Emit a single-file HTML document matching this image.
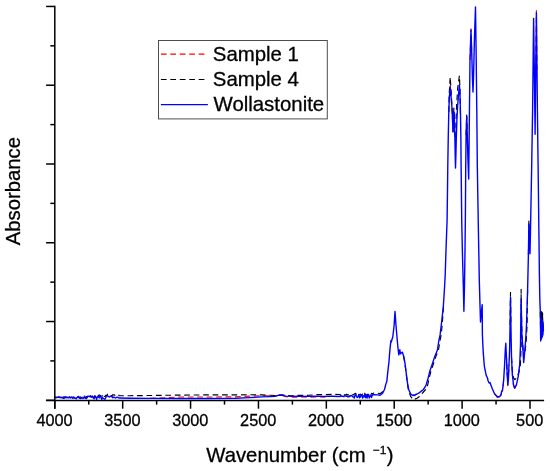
<!DOCTYPE html>
<html lang="en"><head><meta charset="utf-8"><title>FTIR Absorbance</title>
<style>
html,body{margin:0;padding:0;background:#fff;}
body{width:550px;height:471px;overflow:hidden;font-family:"Liberation Sans",sans-serif;}
svg{display:block;}
svg text{font-family:"Liberation Sans",sans-serif;fill:#000;stroke:#000;stroke-width:0.3px;}
</style></head><body>
<svg width="550" height="471" viewBox="0 0 550 471">
<rect width="550" height="471" fill="#fff"/>
<g fill="none" stroke-linejoin="round" stroke-linecap="butt">
<path d="M150.0,398.4 L180.0,397.0 L210.0,397.0 L235.0,396.8 L250.0,396.1 L262.0,395.8 L270.0,395.8 L275.0,395.9 L278.5,395.2 M282.4,395.5 L286.0,396.7 L292.0,397.3 L300.0,397.0 L308.0,397.3 L316.0,397.0 L324.0,397.1 L332.0,396.3 M449.3,98.0 L450.2,85.5 L451.0,96.0 M470.0,60.0 L471.0,28.7 L471.8,55.0 M494.5,393.7 L497.4,397.5 L499.7,397.5 L501.1,395.2 L501.5,392.8 L501.9,391.5 L502.6,390.8 L503.7,379.6 M507.1,372.1 L507.8,385.6 L508.4,379.6 M512.3,373.6 L513.5,385.6 L514.8,389.0 L516.4,384.8 M535.7,70.0 L536.4,10.5 L537.0,70.0" stroke="#ff0000" stroke-width="1.1" stroke-dasharray="5.7 3.75"/>
<path d="M55.0,397.2 L55.9,397.1 L56.7,397.4 L57.6,397.5 L58.4,397.4 L59.3,397.0 L60.1,397.8 L61.0,397.1 M61.8,398.0 L62.7,397.3 L63.5,396.9 L64.4,397.2 L65.2,396.9 L66.0,397.9 L66.9,397.5 L67.7,397.2 L68.6,396.7 L69.4,396.9 L70.3,397.3 L71.1,397.5 L72.0,397.0 L72.8,397.7 L73.7,397.5 L74.5,398.1 L75.4,396.9 L76.2,396.6 L77.1,397.9 L77.9,397.3 L78.8,397.7 L79.6,397.5 L80.5,396.9 L81.3,397.5 L82.2,397.2 L83.0,398.4 M83.9,397.7 L84.7,397.8 L85.6,398.4 L86.4,396.5 L87.3,397.4 L88.1,396.7 L89.0,395.7 L89.8,397.3 L90.7,395.7 L91.5,397.4 M92.4,396.1 L93.2,397.2 L94.1,397.0 L94.9,395.6 L95.8,397.0 L96.6,394.7 L97.5,394.9 L98.3,395.6 L99.2,394.9 L100.0,395.4 L100.9,395.8 L101.7,396.1 L102.6,395.9 L103.4,394.1 L104.3,396.3 L105.1,396.3 L106.0,395.1 L106.8,395.8 L107.7,394.0 L108.5,394.3 L109.4,394.1 L110.2,394.4 L111.1,395.0 L111.9,396.0 L112.8,394.7 L113.6,395.0 L114.5,394.8 L115.3,395.8 L116.2,395.2 L117.0,394.9 L117.9,395.0 L118.7,394.9 L119.0,395.7 L130.0,395.7 L150.0,395.5 L180.0,395.1 L210.0,394.9 L235.0,394.9 L250.0,394.7 L262.0,394.9 L270.0,395.3 L275.0,395.5 L278.5,394.8 L282.4,394.8 L286.0,395.4 L292.0,395.7 L300.0,395.3 L308.0,395.3 L316.0,394.7 L324.0,394.6 L332.0,394.4 L340.0,394.5 L340.8,394.7 L341.6,394.0 L342.3,394.0 L343.1,395.1 L343.8,394.9 L344.6,394.7 L345.3,394.8 L346.1,394.8 L346.8,394.2 L347.6,395.0 L348.3,394.9 L349.1,394.8 L349.8,394.5 L350.6,394.0 L351.3,394.3 L352.1,394.7 L352.8,394.5 L353.6,395.0 L354.3,393.9 L355.1,393.5 L355.8,393.4 L356.6,395.3 L357.3,394.2 L358.1,395.1 L358.8,394.7 L359.6,395.0 L360.3,394.2 L361.1,395.0 L361.8,395.1 L362.6,394.0 L363.3,395.5 L364.1,393.3 L364.8,393.3 L365.6,395.1 L366.3,395.1 L367.1,394.7 L367.8,394.4 L368.6,392.9 L369.3,394.7 L370.1,395.4 L370.8,395.3 L371.6,393.4 L372.3,393.7 L374.0,393.0 L378.0,393.3 L380.1,393.6 L382.6,391.7 L384.5,389.5 M403.6,356.0 L404.9,363.4 L406.2,373.9 L407.5,384.5 L408.7,391.3 L410.6,396.4 L412.0,398.1 L413.2,399.1 L414.0,398.5 L414.8,399.5 L415.7,398.6 L417.0,398.2 L419.5,396.5 L423.4,392.0 L427.0,387.9 L428.9,379.3 L430.8,371.6 L433.4,364.0 L435.9,356.4 L438.5,350.0 L439.9,341.0 L441.2,334.9 L442.3,323.0 L443.5,306.8 M448.8,112.0 L449.3,92.4 L450.2,77.0 L451.0,89.6 L452.0,106.4 L452.7,124.0 M453.0,132.0 L453.4,116.0 L453.9,108.0 L454.4,116.0 L454.9,138.0 M456.3,138.0 L456.0,120.0 L456.7,104.0 L457.7,88.0 L459.4,75.7 L460.0,89.3 L460.5,115.0 M466.1,135.0 L466.7,115.0 L467.3,135.0 M506.3,354.3 L507.1,371.3 L507.8,378.9 L508.4,375.8 L509.0,364.7 M510.1,325.0 L510.5,292.4 L510.9,325.0 M511.5,357.3 L512.3,370.4 L513.5,377.5 L514.8,379.6 L517.1,377.5 L518.9,372.3 L520.4,364.7 L521.2,345.0 L521.1,289.3 L521.9,335.0 L523.0,348.5 L523.7,357.4 L525.2,350.5 L526.3,339.5 L527.1,325.0 L527.6,290.0 M528.4,255.0 L528.9,221.0 L529.5,240.0 M540.3,312.0 L540.7,338.0 L541.1,310.0 L541.5,336.0 L541.9,312.0 L542.3,334.0 L542.6,313.0 L542.9,332.0 L543.2,322.0 L543.4,328.0" stroke="#000" stroke-width="1.15" stroke-dasharray="5.7 3.75"/>
<path d="M55.0,397.4 L55.9,397.8 L56.7,397.6 L57.6,397.1 L58.4,397.0 L59.3,397.0 L60.1,397.5 L61.0,397.1 L61.8,397.8 L62.7,397.7 L63.5,398.4 L64.4,398.2 L65.2,397.0 L66.0,397.3 L66.9,397.0 L67.7,397.9 L68.6,397.7 L69.4,396.7 L70.3,398.0 L71.1,397.2 L72.0,397.5 L72.8,398.3 L73.7,397.0 L74.5,397.7 L75.4,398.2 L76.2,398.8 L77.1,397.4 L77.9,396.7 L78.8,396.4 L79.6,398.3 L80.5,398.6 L81.3,398.2 L82.2,397.8 L83.0,398.6 L83.9,397.5 L84.7,396.2 L85.6,398.1 L86.4,398.6 L87.3,397.2 L88.1,396.0 L89.0,396.5 L89.8,396.1 L90.7,396.3 L91.5,397.2 L92.4,396.1 L93.2,397.8 L94.1,398.8 L94.9,396.8 L95.8,397.1 L96.6,399.3 L97.5,396.4 L98.3,396.6 L99.2,397.9 L100.0,395.7 L100.9,397.1 L101.7,399.3 L102.6,397.7 L103.4,398.3 L104.3,399.1 L105.1,399.0 L106.0,397.2 L106.8,396.1 L107.7,395.9 L108.5,396.5 L109.4,397.1 L110.2,396.1 L111.1,396.5 L111.9,396.4 L112.8,397.8 L113.6,397.1 L114.5,397.4 L115.3,398.0 L116.2,397.6 L117.0,397.1 L117.9,397.4 L118.7,398.0 L119.0,398.0 L130.0,398.2 L150.0,398.4 L180.0,398.5 L210.0,398.5 L235.0,398.3 L250.0,397.6 L262.0,396.9 L270.0,396.6 L275.0,396.4 L278.5,395.4 L282.4,395.4 L286.0,396.1 L292.0,396.4 L300.0,396.1 L308.0,396.4 L316.0,396.1 L324.0,396.4 L332.0,396.3 L340.0,396.5 L340.8,395.4 L341.6,396.3 L342.3,396.3 L343.1,396.3 L343.8,396.8 L344.6,395.8 L345.3,395.7 L346.1,396.3 L346.8,395.9 L347.6,396.7 L348.3,396.8 L349.1,396.7 L349.8,395.8 L350.6,396.0 L351.3,395.4 L352.1,395.8 L352.8,396.9 L353.6,396.9 L354.3,398.0 L355.1,394.9 L355.8,394.8 L356.6,396.6 L357.3,397.5 L358.1,396.7 L358.8,394.4 L359.6,397.8 L360.3,397.1 L361.1,394.7 L361.8,395.4 L362.6,398.0 L363.3,395.7 L364.1,397.0 L364.8,394.5 L365.6,397.7 L366.3,394.6 L367.1,398.1 L367.8,395.5 L368.6,394.5 L369.3,398.0 L370.1,396.2 L370.8,395.8 L371.6,397.4 L372.3,395.0 L374.0,394.6 L378.0,394.9 L380.1,395.2 L382.6,393.3 L384.5,389.5 L385.8,384.4 L386.4,382.6 L386.8,381.6 L387.7,372.9 L389.0,361.5 L389.6,353.5 L390.3,345.9 L390.9,340.8 L391.3,342.0 L391.8,340.0 L392.8,337.0 L394.1,325.5 L395.0,311.5 L396.0,325.5 L397.3,340.8 L398.3,351.0 L398.8,354.8 L399.8,349.7 L400.5,353.8 L401.1,353.0 L402.4,352.2 L403.6,356.0 L404.9,362.7 L406.2,372.9 L407.5,383.1 L408.7,389.5 L410.6,393.9 L412.0,395.0 L413.2,395.6 L414.0,394.7 L414.8,395.5 L415.7,394.5 L417.0,394.0 L419.5,392.6 L423.4,389.5 L425.9,385.6 L427.8,379.3 L429.7,371.6 L432.3,364.0 L434.8,356.4 L437.4,350.0 L438.8,341.0 L440.1,334.9 L441.5,323.0 L443.3,306.8 L444.4,290.0 L445.2,275.0 L446.0,250.0 L447.1,220.0 L447.5,190.0 L447.8,165.0 L448.3,135.0 L448.8,112.0 L449.3,98.0 L450.2,87.0 L451.0,96.0 L452.0,108.0 L452.7,124.0 L453.0,132.0 L453.4,120.0 L453.9,112.0 L454.4,120.0 L454.9,138.0 L455.2,155.0 L455.5,168.0 L455.9,155.0 L456.3,138.0 L456.9,120.0 L457.6,106.0 L458.6,94.0 L459.4,84.8 L460.0,95.0 L460.5,115.0 L460.9,140.0 L461.1,165.0 L461.8,225.0 L462.6,260.0 L463.3,285.0 L463.9,311.3 L464.5,285.0 L465.0,250.0 L465.4,215.0 L465.7,170.0 L466.1,135.0 L466.7,116.5 L467.3,135.0 L467.9,158.0 L468.7,179.0 L469.0,150.0 L469.4,115.0 L470.0,60.0 L471.0,29.9 L471.8,55.0 L472.5,80.0 L473.0,92.0 L473.6,75.0 L474.4,40.0 L475.5,6.9 L476.1,50.0 L476.8,110.0 L477.3,165.0 L478.3,225.0 L479.3,280.0 L480.0,305.0 L480.5,322.0 L481.4,312.0 L482.2,304.7 L482.4,335.0 L483.0,348.0 L483.4,354.4 L484.3,365.8 L486.2,375.4 L487.5,378.0 L488.0,380.5 L489.1,383.0 L490.0,382.5 L492.2,388.5 L494.5,393.7 L497.4,396.7 L499.7,396.7 L501.1,394.4 L501.5,392.0 L501.9,390.7 L502.6,390.0 L503.7,379.6 L504.6,364.7 L505.3,349.9 L505.8,343.2 L506.3,354.3 L507.1,372.1 L507.8,384.8 L508.4,379.6 L509.0,364.7 L509.6,349.9 L510.1,325.0 L510.5,297.4 L510.9,325.0 L511.5,357.3 L512.3,373.6 L513.5,384.8 L514.8,388.2 L516.4,384.8 L518.2,376.6 L519.7,364.7 L520.5,345.0 L521.1,299.3 L521.9,335.0 L523.0,349.9 L523.7,362.5 L524.6,352.8 L525.7,339.5 L526.5,325.0 L527.6,290.0 L528.4,255.0 L528.9,224.0 L529.5,240.0 L530.0,253.8 L530.6,225.0 L531.7,165.0 L532.6,110.0 L533.2,55.0 L533.6,18.5 L534.2,60.0 L535.1,134.2 L535.7,70.0 L536.4,12.8 L537.0,70.0 L537.4,110.0 L538.1,165.0 L539.0,240.0 L539.4,275.0 L539.8,298.0 L540.3,312.0 L540.7,341.0 L541.1,318.0 L541.5,339.0 L541.9,320.0 L542.3,337.0 L542.6,321.0 L542.9,335.0 L543.2,325.0 L543.4,331.0" stroke="#0000ff" stroke-width="1.4"/>
</g>
<g stroke="#000" stroke-width="1.5" fill="none">
<line x1="54.8" y1="5.7" x2="54.8" y2="408.7"/>
<line x1="46.1" y1="400.45" x2="544.1" y2="400.45"/>
<line x1="54.80" y1="400.45" x2="54.80" y2="408.7"/>
<line x1="122.69" y1="400.45" x2="122.69" y2="408.7"/>
<line x1="190.57" y1="400.45" x2="190.57" y2="408.7"/>
<line x1="258.45" y1="400.45" x2="258.45" y2="408.7"/>
<line x1="326.34" y1="400.45" x2="326.34" y2="408.7"/>
<line x1="394.23" y1="400.45" x2="394.23" y2="408.7"/>
<line x1="462.11" y1="400.45" x2="462.11" y2="408.7"/>
<line x1="530.00" y1="400.45" x2="530.00" y2="408.7"/>
<line x1="88.74" y1="400.45" x2="88.74" y2="404.6"/>
<line x1="156.63" y1="400.45" x2="156.63" y2="404.6"/>
<line x1="224.51" y1="400.45" x2="224.51" y2="404.6"/>
<line x1="292.40" y1="400.45" x2="292.40" y2="404.6"/>
<line x1="360.28" y1="400.45" x2="360.28" y2="404.6"/>
<line x1="428.17" y1="400.45" x2="428.17" y2="404.6"/>
<line x1="496.05" y1="400.45" x2="496.05" y2="404.6"/>
<line x1="46.1" y1="6.45" x2="54.8" y2="6.45"/>
<line x1="46.1" y1="85.22" x2="54.8" y2="85.22"/>
<line x1="46.1" y1="163.99" x2="54.8" y2="163.99"/>
<line x1="46.1" y1="242.76" x2="54.8" y2="242.76"/>
<line x1="46.1" y1="321.53" x2="54.8" y2="321.53"/>
<line x1="46.1" y1="400.30" x2="54.8" y2="400.30"/>
<line x1="50.3" y1="45.84" x2="54.8" y2="45.84"/>
<line x1="50.3" y1="124.61" x2="54.8" y2="124.61"/>
<line x1="50.3" y1="203.37" x2="54.8" y2="203.37"/>
<line x1="50.3" y1="282.14" x2="54.8" y2="282.14"/>
<line x1="50.3" y1="360.91" x2="54.8" y2="360.91"/>
</g>
<g font-size="16.3">
<text x="54.5" y="425.8" text-anchor="middle">4000</text>
<text x="122.4" y="425.8" text-anchor="middle">3500</text>
<text x="190.3" y="425.8" text-anchor="middle">3000</text>
<text x="258.2" y="425.8" text-anchor="middle">2500</text>
<text x="326.0" y="425.8" text-anchor="middle">2000</text>
<text x="393.9" y="425.8" text-anchor="middle">1500</text>
<text x="461.8" y="425.8" text-anchor="middle">1000</text>
<text x="529.7" y="425.8" text-anchor="middle">500</text>
</g>
<text x="206.3" y="461.6" font-size="20.3">Wavenumber (cm<tspan dx="7.3" dy="-7.9" font-size="11.8">−1</tspan><tspan dy="7.9" dx="0.4">)</tspan></text>
<text transform="translate(19.6,245.3) rotate(-90)" font-size="20.3">Absorbance</text>
<rect x="158.5" y="40.5" width="168.8" height="78.4" fill="#fff" stroke="#4d4d4d" stroke-width="1"/>
<g fill="none" stroke-width="1.2">
<line x1="160.9" y1="54.1" x2="204.4" y2="54.1" stroke="#ff0000" stroke-dasharray="5.7 3.75"/>
<line x1="160.9" y1="79.5" x2="204.4" y2="79.5" stroke="#000" stroke-dasharray="5.7 3.75"/>
<line x1="160.9" y1="104.7" x2="207.9" y2="104.7" stroke="#0000ff"/>
</g>
<g font-size="20.4">
<text x="212.8" y="61.0">Sample 1</text>
<text x="212.8" y="86.3">Sample 4</text>
<text x="213.5" y="111.4">Wollastonite</text>
</g>
</svg>
</body></html>
